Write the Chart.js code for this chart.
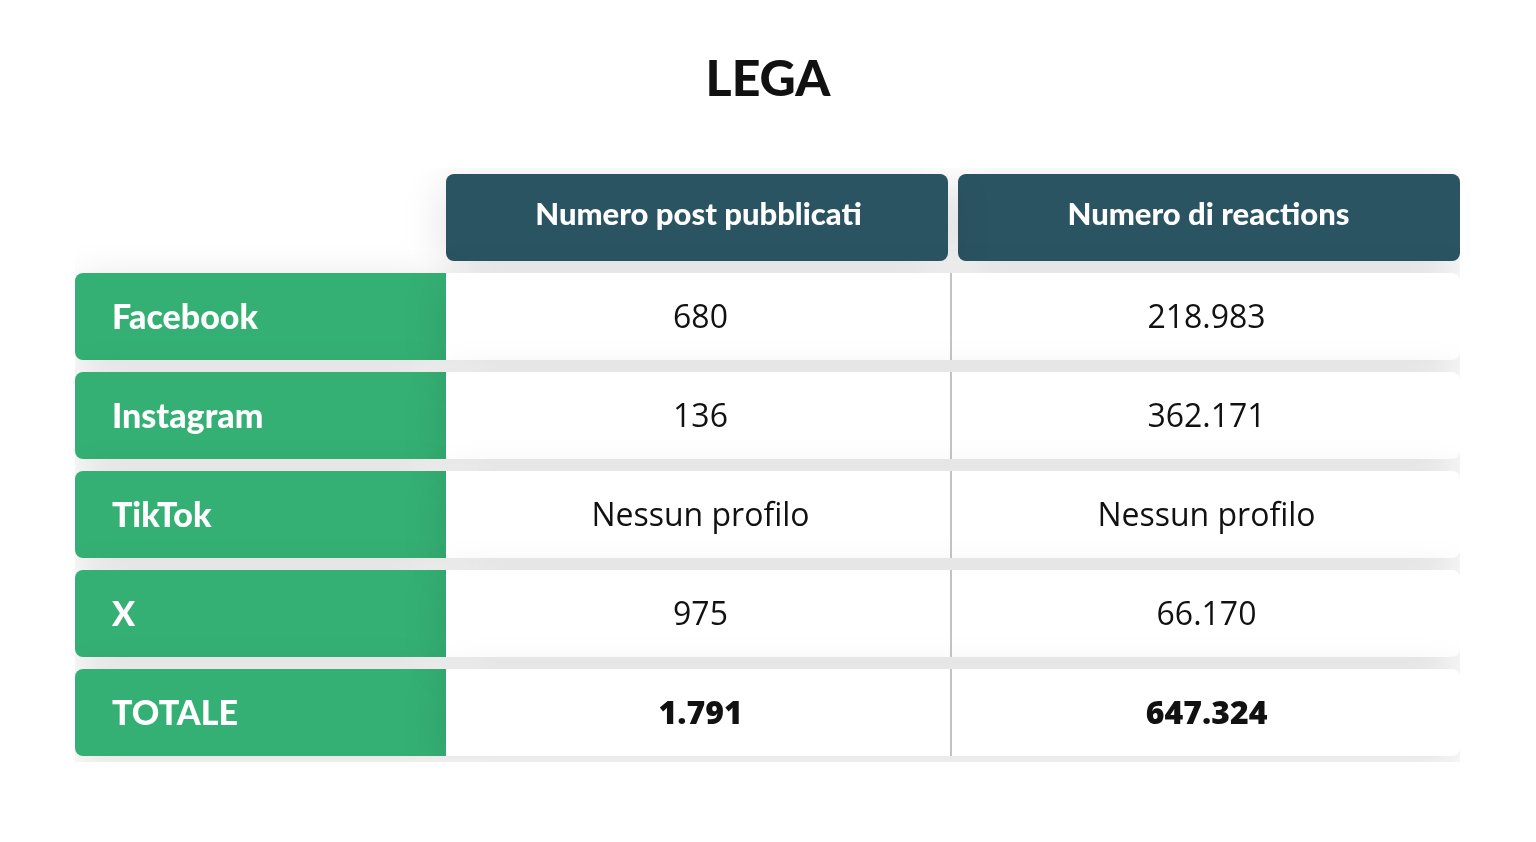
<!DOCTYPE html>
<html><head><meta charset="utf-8">
<script src="https://cdn.jsdelivr.net/npm/chart.js@4"></script>
<style>html,body{margin:0;padding:0;background:#fff}#w{width:1536px;height:842px}</style>
</head><body><div id="w"><canvas id="c"></canvas></div>
<script>
const title = "LEGA";
const rows = ["", "Facebook", "Instagram", "TikTok", "X", "TOTALE"];
const headers = ["Numero post pubblicati", "Numero di reactions"];
const posts = ["680", "136", "Nessun profilo", "975", "1.791"];
const reactions = ["218.983", "362.171", "Nessun profilo", "66.170", "647.324"];
const colEdges = [0, 371, 876, 1385];

const n = rows.length;
const labelSpans = rows.map((r, i) => i === 0 ? null : [colEdges[0], colEdges[1]]);
const bodySpans = rows.map((r, i) => i === 0 ? null : [colEdges[1], colEdges[3]]);
const head1 = rows.map((r, i) => i === 0 ? [colEdges[1], colEdges[2] - 3] : null);
const head2 = rows.map((r, i) => i === 0 ? [colEdges[2] + 7, colEdges[3]] : null);

const tablePlugin = {
  id: 'table',
  beforeDatasetsDraw(chart) {
    const ctx = chart.ctx; ctx.save();
    ctx.shadowColor = 'rgba(0,0,0,0.13)'; ctx.shadowBlur = 45; ctx.shadowOffsetY = 10;
  },
  afterDatasetsDraw(chart) {
    chart.ctx.restore();
    const ctx = chart.ctx, x = chart.scales.x, y = chart.scales.y;
    // divider
    ctx.save();
    ctx.strokeStyle = '#9a9a9a'; ctx.lineWidth = 1.2;
    const dx = x.getPixelForValue(colEdges[2]);
    for (let i = 1; i < n; i++) {
      const c = y.getPixelForValue(i);
      ctx.beginPath(); ctx.moveTo(dx, c - 43.5); ctx.lineTo(dx, c + 43.5); ctx.stroke();
    }
    ctx.textBaseline = 'middle';
    // headers
    ctx.fillStyle = '#fff'; ctx.textAlign = 'center';
    ctx.font = '900 31px Lato, "Open Sans", sans-serif';
    const hy = y.getPixelForValue(0) - 3;
    ctx.fillText(headers[0], (x.getPixelForValue(colEdges[1]) + x.getPixelForValue(colEdges[2])) / 2, hy);
    ctx.fillText(headers[1], (x.getPixelForValue(colEdges[2]) + x.getPixelForValue(colEdges[3])) / 2 + 3, hy);
    for (let i = 1; i < n; i++) {
      const cy = y.getPixelForValue(i);
      const bold = i === n - 1;
      ctx.fillStyle = '#fff'; ctx.textAlign = 'left';
      ctx.font = '900 34px Lato, "Open Sans", sans-serif';
      ctx.fillText(rows[i], x.getPixelForValue(colEdges[0]) + 37, cy + 2);
      ctx.fillStyle = '#111'; ctx.textAlign = 'center';
      ctx.font = (bold ? '900 ' : '400 ') + '32px "Open Sans", Lato, sans-serif';
      ctx.fillText(posts[i - 1], (x.getPixelForValue(colEdges[1]) + x.getPixelForValue(colEdges[2])) / 2 + 2, cy + 2);
      ctx.fillText(reactions[i - 1], (x.getPixelForValue(colEdges[2]) + x.getPixelForValue(colEdges[3])) / 2 + 1, cy + 2);
    }
    // title
    ctx.fillStyle = '#111'; ctx.font = '900 50px Lato, "Open Sans", sans-serif';
    ctx.fillText(title, 768, 80);
    ctx.restore();
  }
};

new Chart(document.getElementById('c'), {
  type: 'bar',
  data: {
    labels: rows,
    datasets: [
      { data: bodySpans, backgroundColor: '#ffffff', borderRadius: { topRight: 8, bottomRight: 8 }, borderSkipped: false },
      { data: labelSpans, backgroundColor: '#35B074', borderRadius: { topLeft: 8, bottomLeft: 8 }, borderSkipped: false },
      { data: head1, backgroundColor: '#2B5463', borderRadius: 8, borderSkipped: false },
      { data: head2, backgroundColor: '#2B5463', borderRadius: 8, borderSkipped: false }
    ]
  },
  options: {
    indexAxis: 'y', responsive: true, maintainAspectRatio: false, animation: false,
    datasets: { bar: { grouped: false, categoryPercentage: 1, barPercentage: 0.88 } },
    layout: { padding: { top: 168, bottom: 80, left: 75, right: 76 } },
    plugins: { legend: { display: false }, tooltip: { enabled: false } },
    scales: {
      x: { type: 'linear', min: 0, max: 1385, display: false },
      y: { type: 'category', display: false }
    }
  },
  plugins: [tablePlugin]
});
</script></body></html>
